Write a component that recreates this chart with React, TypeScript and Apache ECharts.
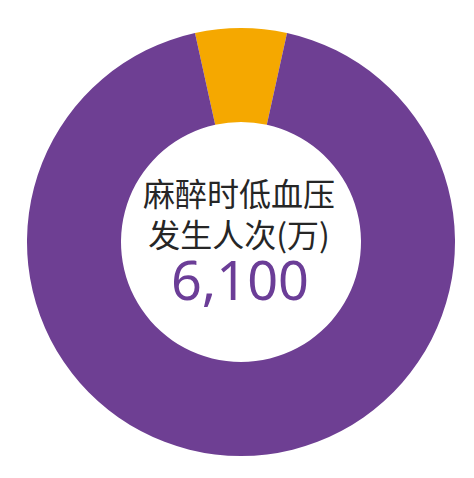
import { useEffect, useRef } from 'react'
import * as echarts from 'echarts'

const sliceNames = ['麻醉时低血压', '其他']
const sliceValues = [6.9, 93.1]
const sliceColors = ['#f5a800', '#6e3f93']
const centerLines = ['麻醉时低血压', '发生人次(万)']
const centerValue = '6,100'

export default function App() {
  const chartRef = useRef<HTMLDivElement>(null)

  useEffect(() => {
    if (!chartRef.current) return
    const chart = echarts.init(chartRef.current, undefined, { renderer: 'svg' })

    const orangeShare = sliceValues[0] / sliceValues.reduce((a, b) => a + b, 0)

    chart.setOption({
      animation: false,
      series: [
        {
          type: 'pie',
          center: [241, 242],
          radius: [120, 214],
          startAngle: 90 + orangeShare * 180,
          label: { show: false },
          labelLine: { show: false },
          silent: true,
          data: sliceNames.map((name, i) => ({
            name,
            value: sliceValues[i],
            itemStyle: { color: sliceColors[i] },
          })),
        },
      ],
      graphic: [
        ...centerLines.map((line, i) => ({
          type: 'text',
          x: 239,
          y: 192 + i * 41,
          style: {
            text: line,
            fill: '#262626',
            font: '32px "Noto Sans CJK SC", "Noto Sans", sans-serif',
            lineHeight: 34,
            textAlign: 'center',
            textVerticalAlign: 'middle',
          },
        })),
        {
          type: 'text',
          x: 240,
          y: 279,
          style: {
            text: centerValue,
            fill: '#6b3d97',
            font: '54px "Noto Sans", sans-serif',
            lineHeight: 44,
            textAlign: 'center',
            textVerticalAlign: 'middle',
          },
        },
      ],
    })

    return () => {
      chart.dispose()
    }
  }, [])

  return (
    <div
      ref={chartRef}
      style={{ position: 'fixed', left: 0, top: 0, width: '474px', height: '478px', background: '#fff' }}
    />
  )
}
